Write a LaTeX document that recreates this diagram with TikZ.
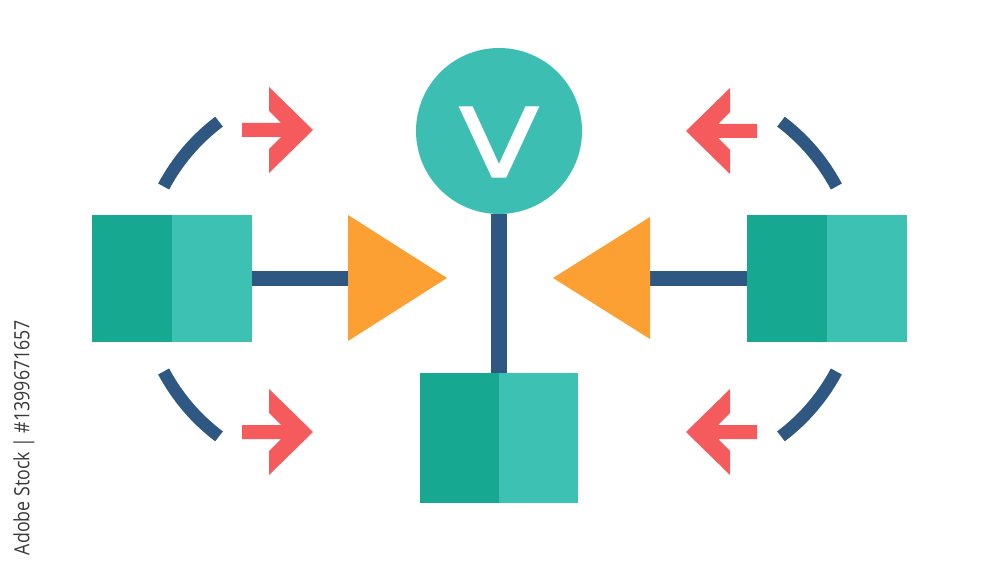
\documentclass[tikz,border=0pt]{standalone}
\usepackage{fontspec}
\newfontfamily\vfont[FakeBold=1.5]{DejaVu Sans}
\newfontfamily\idfont{Open Sans}
\definecolor{tealL}{HTML}{3DC1B3}
\definecolor{tealD}{HTML}{17A892}
\definecolor{circC}{HTML}{3CBFB2}
\definecolor{navy}{HTML}{2E5882}
\definecolor{orangeC}{HTML}{FDA033}
\definecolor{redC}{HTML}{F55A5C}
\definecolor{idgray}{HTML}{3A3A3A}
\begin{document}
\begin{tikzpicture}[x=1pt,y=1pt,
  box/.style={rectangle, draw=none, fill=tealL, inner sep=0,
    path picture={\fill[tealD] (path picture bounding box.south west) rectangle (path picture bounding box.north);}},
  link/.style={draw=navy, line width=15.5},
  arcline/.style={draw=navy, line width=12.5, line cap=butt},
  tri/.style={fill=orangeC},
  redarrow/.pic={\fill[redC] (-71,7) -- (-32,7) -- (-44,19) -- (-44,43) -- (0,0) -- (-44,-43) -- (-44,-19) -- (-32,-7) -- (-71,-7) -- cycle;}
  ]
\fill[white] (0,0) rectangle (1000,563);
\useasboundingbox (0,0) rectangle (1000,563);

% boxes and circle
\node[box, minimum width=160, minimum height=127] (lbox) at (172,284.5) {};
\node[box, minimum width=160, minimum height=127] (rbox) at (827,284.5) {};
\node[box, minimum width=158, minimum height=130] (bbox) at (499,125) {};
\node[circle, fill=circC, minimum size=166, inner sep=0] (vc) at (499,432) {};
\node[inner sep=0, text=white] (vtext) at ([yshift=-11]vc.center) {\resizebox{80pt}{70pt}{\vfont V}};

\coordinate (ltri) at (348,284.5);
\coordinate (rtri) at (650,284.5);

% connectors
\draw[link] (lbox.east) -- (ltri);
\draw[link] (rbox.west) -- (rtri);
\draw[link] (vc.south) -- (bbox.north);

% triangles
\fill[tri] (348,348) -- (447,285) -- (348,222) -- cycle;
\fill[tri] (650,346) -- (553,285) -- (650,224) -- cycle;

% arcs
\draw[arcline] (337.6,284) ++(127:197) arc[start angle=127, end angle=152, radius=197];
\draw[arcline] (337.6,284) ++(208:197) arc[start angle=208, end angle=233, radius=197];
\draw[arcline] (662.4,284) ++(28:197) arc[start angle=28, end angle=53, radius=197];
\draw[arcline] (662.4,284) ++(-53:197) arc[start angle=-53, end angle=-28, radius=197];

% red arrows
\pic at (313,433) {redarrow};
\pic at (313,131) {redarrow};
\pic[rotate=180] at (686,432) {redarrow};
\pic[rotate=180] at (686,131) {redarrow};

% id text
\node[rotate=90, text=idgray, inner sep=0] (stockid) at (24,125.5) {\resizebox{235pt}{16pt}{\idfont Adobe Stock | \#1399671657}};
\end{tikzpicture}
\end{document}
